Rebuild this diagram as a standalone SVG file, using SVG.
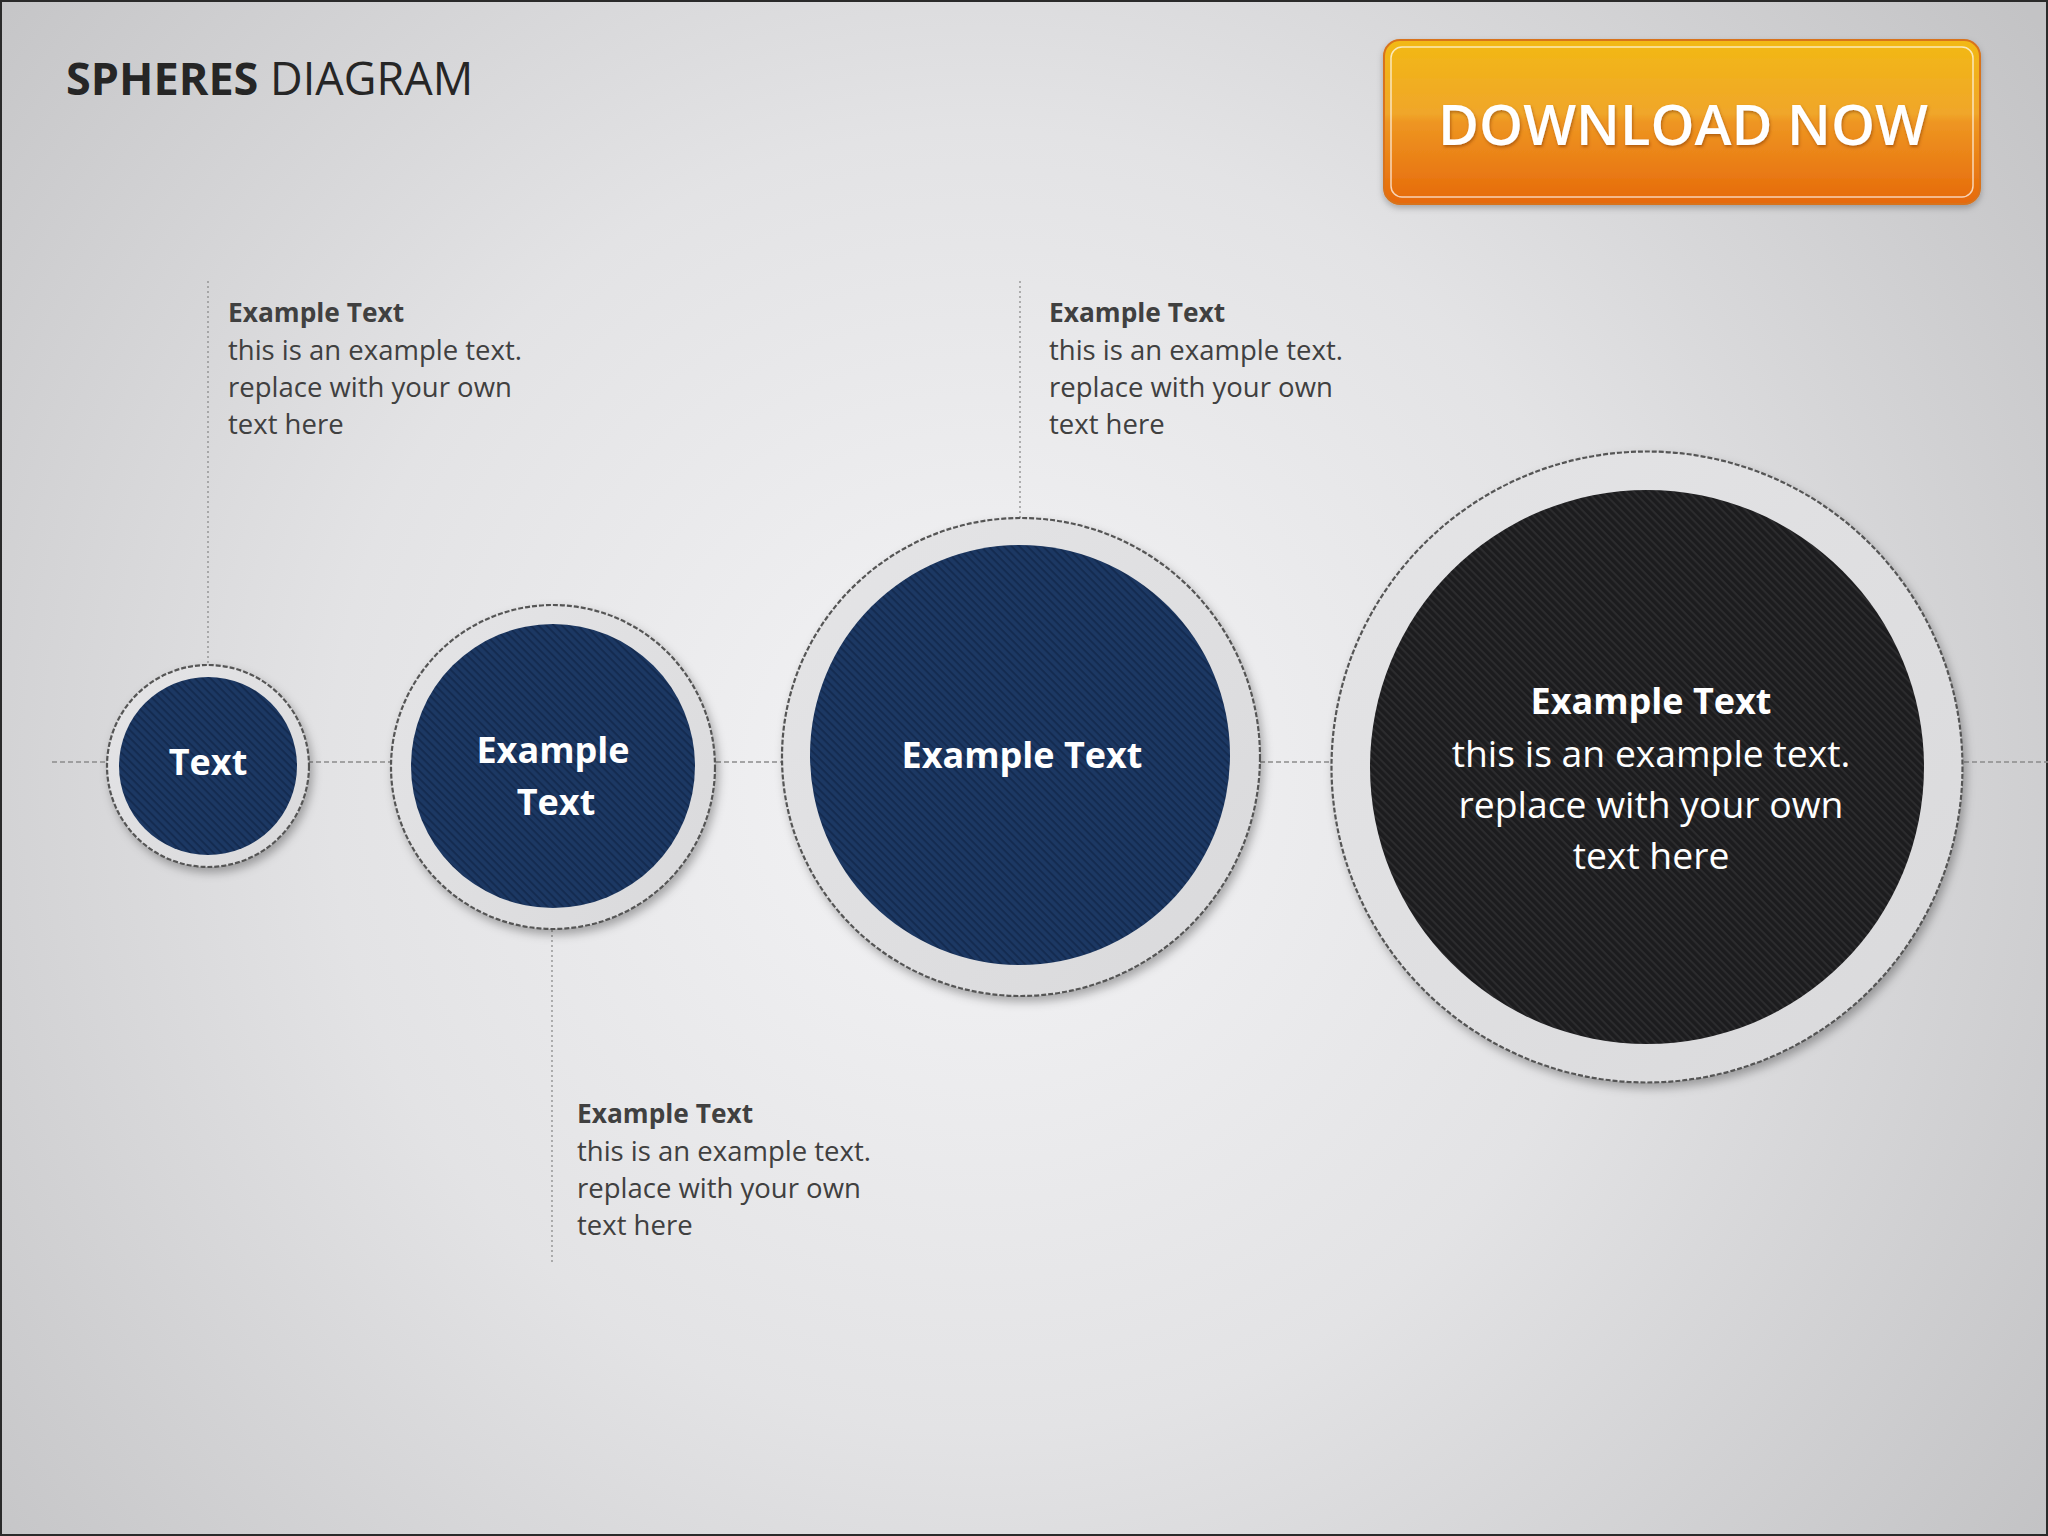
<svg xmlns="http://www.w3.org/2000/svg" width="2048" height="1536" viewBox="0 0 2048 1536">
  <style>
    .title { font-family: "Open Sans", "Liberation Sans", sans-serif; font-size: 45px; fill: #262626; }
    .note { font-family: "Open Sans", "Liberation Sans", sans-serif; font-size: 27.5px; fill: #404040; }
    .note .h { font-weight: 700; font-size: 26.3px; }
    .ctext { font-family: "Open Sans", "Liberation Sans", sans-serif; font-weight: 700; font-size: 36px; fill: #ffffff; text-anchor: middle; }
    .cbody { font-family: "Open Sans", "Liberation Sans", sans-serif; font-size: 37.3px; fill: #ffffff; text-anchor: middle; }
    .ring { fill: url(#ringGrad); stroke: #555555; stroke-width: 2.2; stroke-dasharray: 5 2; filter: url(#shadow); }
    .navy { fill: url(#navyStripe); }
    .black { fill: url(#blackStripe); }
    .hline { stroke: #8c8c8c; stroke-width: 1.3; stroke-dasharray: 5 3; fill: none; }
    .vline { stroke: #8c8c8c; stroke-width: 1.3; stroke-dasharray: 2 3; fill: none; }
  </style>
  <defs>
    <radialGradient id="bg" gradientUnits="userSpaceOnUse" cx="980" cy="780" r="1300">
      <stop offset="0" stop-color="#f4f4f6"/>
      <stop offset="0.5" stop-color="#e3e3e5"/>
      <stop offset="1" stop-color="#c3c3c5"/>
    </radialGradient>
    <linearGradient id="ringGrad" x1="0" y1="0" x2="1" y2="1">
      <stop offset="0" stop-color="#e5e5e7"/>
      <stop offset="1" stop-color="#d9d9db"/>
    </linearGradient>
    <linearGradient id="btnGrad" x1="0" y1="0" x2="0" y2="1">
      <stop offset="0" stop-color="#f2b914"/>
      <stop offset="0.45" stop-color="#f0a62a"/>
      <stop offset="0.5" stop-color="#ee9622"/>
      <stop offset="1" stop-color="#e6690a"/>
    </linearGradient>
    <pattern id="navyStripe" patternUnits="userSpaceOnUse" width="6" height="5.5" patternTransform="rotate(45)">
      <rect width="6" height="5.5" fill="#1c3863"/>
      <rect y="0" width="6" height="2" fill="#142b50"/>
    </pattern>
    <pattern id="blackStripe" patternUnits="userSpaceOnUse" width="6" height="5.5" patternTransform="rotate(45)">
      <rect width="6" height="5.5" fill="#1c1c1e"/>
      <rect y="0" width="6" height="2" fill="#2c2c2e"/>
    </pattern>
    <filter id="shadow" x="-10%" y="-10%" width="125%" height="125%">
      <feDropShadow dx="3" dy="5" stdDeviation="5" flood-color="#000" flood-opacity="0.3"/>
    </filter>
    <filter id="btnShadow" x="-5%" y="-10%" width="110%" height="130%">
      <feDropShadow dx="0" dy="3" stdDeviation="3" flood-color="#000" flood-opacity="0.25"/>
    </filter>
    <filter id="txtShadow" x="-5%" y="-20%" width="110%" height="140%">
      <feDropShadow dx="1" dy="2" stdDeviation="1.5" flood-color="#7a3000" flood-opacity="0.5"/>
    </filter>
  </defs>

  <rect x="0" y="0" width="2048" height="1536" fill="url(#bg)"/>
  <rect x="1" y="1" width="2046" height="1534" fill="none" stroke="#2a2a2a" stroke-width="2"/>

  <g id="title">
    <text class="title" x="66" y="95"><tspan font-weight="700">SPHERES</tspan> DIAGRAM</text>
  </g>

  <g id="download-button">
    <rect x="1384" y="40" width="596" height="164" rx="16" fill="url(#btnGrad)" stroke="#d8731c" stroke-width="2" filter="url(#btnShadow)"/>
    <rect x="1391" y="47" width="582" height="150" rx="11" fill="none" stroke="#ffffff" stroke-opacity="0.7" stroke-width="1.5"/>
    <text x="1683" y="145" text-anchor="middle" font-family="'Open Sans', 'Liberation Sans', sans-serif" font-weight="600" font-size="56" fill="#ffffff" filter="url(#txtShadow)">DOWNLOAD NOW</text>
  </g>

  <g id="connectors">
    <line class="hline" x1="52" y1="762" x2="2048" y2="762"/>
    <line class="vline" x1="208" y1="281" x2="208" y2="665"/>
    <line class="vline" x1="552" y1="930" x2="552" y2="1262"/>
    <line class="vline" x1="1020" y1="281" x2="1020" y2="518"/>
  </g>

  <g id="sphere-1">
    <circle class="ring" cx="208" cy="766" r="101"/>
    <circle class="navy" cx="208" cy="766" r="89"/>
    <text class="ctext" x="208" y="775" font-size="37">Text</text>
  </g>

  <g id="sphere-2">
    <circle class="ring" cx="553" cy="767" r="162"/>
    <circle class="navy" cx="553" cy="766" r="142"/>
    <text class="ctext" x="553" y="763">Example</text>
    <text class="ctext" x="556" y="815">Text</text>
  </g>

  <g id="sphere-3">
    <circle class="ring" cx="1021" cy="757" r="239"/>
    <circle class="navy" cx="1020" cy="755" r="210"/>
    <text class="ctext" x="1022" y="768">Example Text</text>
  </g>

  <g id="sphere-4">
    <circle class="ring" cx="1647" cy="767" r="315.5"/>
    <circle class="black" cx="1647" cy="767" r="277"/>
    <text class="ctext" x="1651" y="714" font-size="36.5">Example Text</text>
    <text class="cbody" x="1651" y="767">this is an example text.</text>
    <text class="cbody" x="1651" y="818">replace with your own</text>
    <text class="cbody" x="1651" y="869">text here</text>
  </g>

  <g id="note-1" class="note">
    <text x="228" y="322" class="h">Example Text</text>
    <text x="228" y="360">this is an example text.</text>
    <text x="228" y="397">replace with your own</text>
    <text x="228" y="434">text here</text>
  </g>

  <g id="note-2" class="note">
    <text x="577" y="1123" class="h">Example Text</text>
    <text x="577" y="1161">this is an example text.</text>
    <text x="577" y="1198">replace with your own</text>
    <text x="577" y="1235">text here</text>
  </g>

  <g id="note-3" class="note">
    <text x="1049" y="322" class="h">Example Text</text>
    <text x="1049" y="360">this is an example text.</text>
    <text x="1049" y="397">replace with your own</text>
    <text x="1049" y="434">text here</text>
  </g>
</svg>
